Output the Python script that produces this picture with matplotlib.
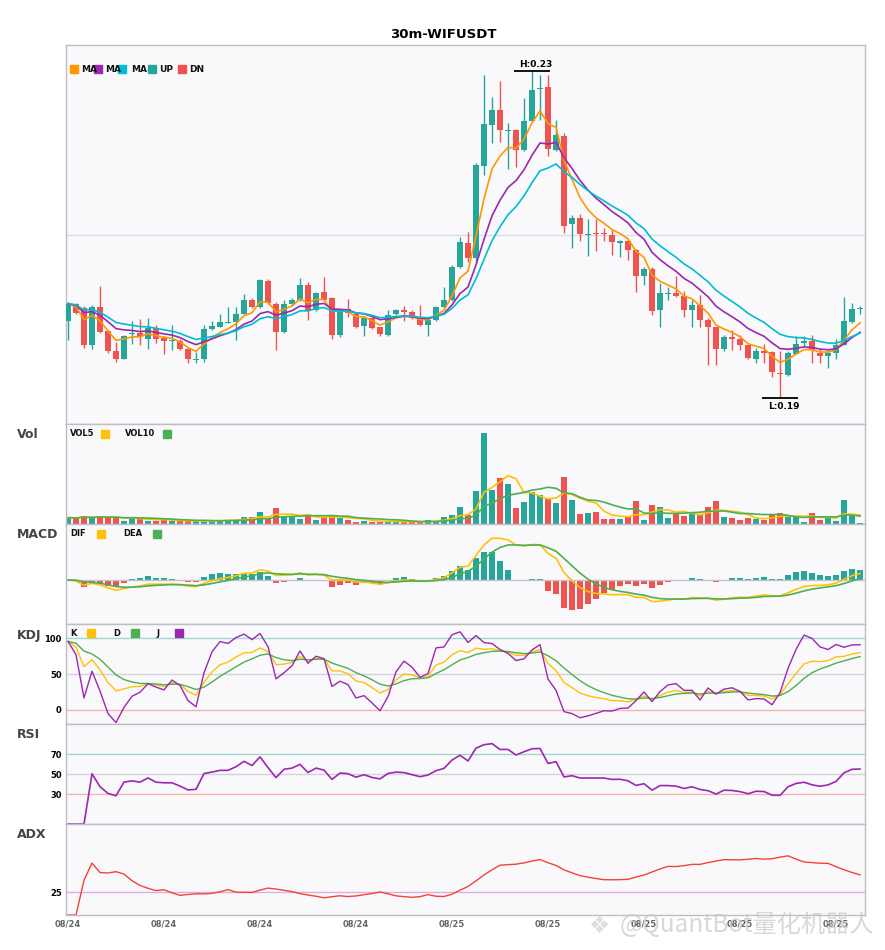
import numpy as np
import pandas as pd
import matplotlib
matplotlib.use("Agg")
import matplotlib.pyplot as plt
from matplotlib.patches import Rectangle

# WIF/USDT, 30m candles starting 08/24 00:00
opens = [0.1995, 0.2016, 0.2011, 0.1966, 0.2012, 0.1983, 0.1958, 0.1949, 0.1979, 0.1980,
         0.1973, 0.1986, 0.1974, 0.1970, 0.1970, 0.1961, 0.1947, 0.1949, 0.1985, 0.1988,
         0.1993, 0.1994, 0.2004, 0.2020, 0.2012, 0.2044, 0.2016, 0.1982, 0.2016, 0.2021,
         0.2039, 0.2008, 0.2030, 0.2023, 0.1978, 0.2009, 0.2004, 0.1989, 0.1998, 0.1987,
         0.1978, 0.2004, 0.2008, 0.2006, 0.1998, 0.1990, 0.1996, 0.2012, 0.2021, 0.2061,
         0.2090, 0.2072, 0.2184, 0.2234, 0.2253, 0.2227, 0.2228, 0.2204, 0.2239, 0.2278,
         0.2281, 0.2204, 0.2221, 0.2113, 0.2121, 0.2100, 0.2102, 0.2102, 0.2100, 0.2090,
         0.2093, 0.2081, 0.2050, 0.2058, 0.2008, 0.2028, 0.2029, 0.2025, 0.2008, 0.2015,
         0.1996, 0.1987, 0.1961, 0.1975, 0.1973, 0.1965, 0.1949, 0.1958, 0.1957, 0.1931,
         0.1929, 0.1955, 0.1968, 0.1971, 0.1956, 0.1952, 0.1956, 0.1965, 0.1994, 0.2009]
highs = [0.2018, 0.2017, 0.2013, 0.2014, 0.2037, 0.1984, 0.1969, 0.1978, 0.1995, 0.1997,
         0.1999, 0.1990, 0.1976, 0.1990, 0.1973, 0.1963, 0.1957, 0.1990, 0.1995, 0.2004,
         0.2012, 0.2012, 0.2028, 0.2023, 0.2046, 0.2046, 0.2018, 0.2021, 0.2023, 0.2047,
         0.2043, 0.2030, 0.2049, 0.2024, 0.2010, 0.2022, 0.2006, 0.2001, 0.2000, 0.1988,
         0.2008, 0.2010, 0.2013, 0.2008, 0.2014, 0.1997, 0.2013, 0.2036, 0.2063, 0.2098,
         0.2104, 0.2188, 0.2295, 0.2268, 0.2288, 0.2237, 0.2229, 0.2267, 0.2300, 0.2295,
         0.2295, 0.2240, 0.2224, 0.2124, 0.2126, 0.2120, 0.2120, 0.2108, 0.2106, 0.2094,
         0.2094, 0.2083, 0.2061, 0.2061, 0.2041, 0.2036, 0.2050, 0.2031, 0.2021, 0.2027,
         0.1998, 0.1988, 0.1978, 0.1984, 0.1978, 0.1967, 0.1962, 0.1967, 0.1958, 0.1958,
         0.1958, 0.1977, 0.1977, 0.1978, 0.1962, 0.1960, 0.1973, 0.2024, 0.2017, 0.2013]
lows = [0.1972, 0.2004, 0.1962, 0.1961, 0.1980, 0.1956, 0.1945, 0.1948, 0.1967, 0.1965,
        0.1961, 0.1968, 0.1954, 0.1960, 0.1960, 0.1944, 0.1944, 0.1945, 0.1984, 0.1987,
        0.1993, 0.1972, 0.2003, 0.2011, 0.2011, 0.2016, 0.1959, 0.1980, 0.2015, 0.2019,
        0.1996, 0.2007, 0.2019, 0.1973, 0.1975, 0.2000, 0.1986, 0.1977, 0.1985, 0.1977,
        0.1977, 0.2002, 0.1995, 0.1997, 0.1989, 0.1977, 0.1995, 0.2011, 0.2019, 0.2060,
        0.2067, 0.2067, 0.2173, 0.2212, 0.2214, 0.2180, 0.2183, 0.2202, 0.2238, 0.2240,
        0.2196, 0.2202, 0.2102, 0.2084, 0.2092, 0.2074, 0.2080, 0.2092, 0.2076, 0.2073,
        0.2069, 0.2030, 0.2039, 0.2002, 0.1988, 0.2020, 0.2024, 0.2000, 0.1988, 0.1988,
        0.1941, 0.1941, 0.1958, 0.1960, 0.1960, 0.1948, 0.1943, 0.1943, 0.1927, 0.1901,
        0.1928, 0.1954, 0.1964, 0.1943, 0.1943, 0.1938, 0.1948, 0.1965, 0.1993, 0.2004]
closes = [0.2016, 0.2005, 0.1965, 0.2012, 0.1982, 0.1958, 0.1948, 0.1977, 0.1980, 0.1976,
          0.1986, 0.1973, 0.1971, 0.1971, 0.1961, 0.1948, 0.1949, 0.1985, 0.1989, 0.1994,
          0.1994, 0.2004, 0.2021, 0.2012, 0.2045, 0.2017, 0.1982, 0.2016, 0.2021, 0.2039,
          0.2008, 0.2029, 0.2021, 0.1978, 0.2008, 0.2005, 0.1988, 0.1999, 0.1986, 0.1979,
          0.2002, 0.2008, 0.2006, 0.1998, 0.1990, 0.1996, 0.2012, 0.2021, 0.2061, 0.2091,
          0.2072, 0.2185, 0.2235, 0.2253, 0.2228, 0.2228, 0.2204, 0.2239, 0.2277, 0.2280,
          0.2205, 0.2222, 0.2111, 0.2121, 0.2101, 0.2101, 0.2101, 0.2101, 0.2091, 0.2092,
          0.2082, 0.2050, 0.2058, 0.2007, 0.2029, 0.2029, 0.2025, 0.2008, 0.2015, 0.1996,
          0.1987, 0.1961, 0.1975, 0.1973, 0.1965, 0.1950, 0.1958, 0.1956, 0.1932, 0.1930,
          0.1956, 0.1967, 0.1971, 0.1959, 0.1952, 0.1956, 0.1966, 0.1995, 0.2009, 0.2010]
volumes_k = [63, 57, 83, 60, 83, 60, 63, 33, 60, 53,
             33, 33, 43, 30, 27, 27, 27, 33, 33, 43,
             43, 43, 70, 70, 123, 50, 163, 80, 80, 53,
             93, 43, 67, 93, 60, 43, 23, 33, 23, 23,
             27, 27, 17, 17, 17, 43, 33, 73, 93, 173,
             87, 323, 903, 333, 453, 393, 163, 223, 313, 287,
             260, 213, 463, 243, 103, 113, 123, 53, 53, 53,
             73, 233, 43, 193, 173, 63, 113, 83, 103, 93,
             173, 233, 73, 63, 43, 63, 53, 43, 103, 113,
             73, 73, 23, 113, 43, 83, 33, 243, 83, 7]
tick_idx = [0, 12, 24, 36, 48, 60, 72, 84, 96]
tick_labels = ["08/24", "08/24", "08/24", "08/24", "08/25", "08/25", "08/25", "08/25", "08/25"]

UP, DN = "#26A69A", "#EF5350"
YEL, GRN, PUR = "#FFC107", "#4CAF50", "#9C27B0"

df = pd.DataFrame({"open": opens, "high": highs, "low": lows, "close": closes,
                   "vol": np.array(volumes_k) * 1000.0})
x = np.arange(len(df))
c = df["close"]

# moving averages (exponential)
ma_a = c.ewm(span=5, adjust=False).mean()
ma_b = c.ewm(span=10, adjust=False).mean()
ma_c = c.ewm(span=15, adjust=False).mean()
vol5 = df["vol"].rolling(5, min_periods=1).mean()
vol10 = df["vol"].rolling(10, min_periods=1).mean()

# MACD (fast setting)
dif = c.ewm(span=6, adjust=False).mean() - c.ewm(span=13, adjust=False).mean()
dea = dif.ewm(span=5, adjust=False).mean()
hist = 2 * (dif - dea)

# KDJ 9,3,3
low9 = df["low"].rolling(9, min_periods=1).min()
high9 = df["high"].rolling(9, min_periods=1).max()
rsv = (c - low9) / (high9 - low9) * 100
k = rsv.ewm(com=2, adjust=False).mean()
d = k.ewm(com=2, adjust=False).mean()
j = 3 * k - 2 * d

# RSI 14
delta = c.diff()
ag = delta.clip(lower=0).ewm(alpha=1 / 14, min_periods=3).mean()
al = (-delta.clip(upper=0)).ewm(alpha=1 / 14, min_periods=3).mean()
rsi = (100 - 100 / (1 + ag / al)).fillna(0)

# ADX 14
prev_c = c.shift()
tr = pd.concat([df["high"] - df["low"], (df["high"] - prev_c).abs(),
                (df["low"] - prev_c).abs()], axis=1).max(axis=1)
up_mv = df["high"].diff()
dn_mv = -df["low"].diff()
pdm = pd.Series(np.where((up_mv > dn_mv) & (up_mv > 0), up_mv, 0.0))
mdm = pd.Series(np.where((dn_mv > up_mv) & (dn_mv > 0), dn_mv, 0.0))
atr = tr.ewm(span=14).mean()
pdi = 100 * pdm.ewm(span=14).mean() / atr
mdi = 100 * mdm.ewm(span=14).mean() / atr
dx = (100 * (pdi - mdi).abs() / (pdi + mdi)).fillna(0)
dx.iloc[0] = 0
adx = dx.ewm(span=14).mean()

# layout in pixels
W, H = 885, 950
fig = plt.figure(figsize=(W / 100, H / 100), dpi=100)
fig.patch.set_facecolor("white")


def px_axes(left, top, right, bottom):
    return fig.add_axes([left / W, 1 - bottom / H, (right - left) / W, (bottom - top) / H])


ax_k = px_axes(66, 45, 865, 424)
ax_v = px_axes(66, 424, 865, 524)
ax_m = px_axes(66, 524, 865, 624)
ax_j = px_axes(66, 624, 865, 724)
ax_r = px_axes(66, 724, 865, 824)
ax_a = px_axes(66, 824, 865, 915)
axes = [ax_k, ax_v, ax_m, ax_j, ax_r, ax_a]

for ax in axes:
    ax.set_facecolor("#f9f9fb")
    ax.set_xlim(-0.25, 99.62)
    for s in ax.spines.values():
        s.set_color("#bdbdc6")
        s.set_linewidth(1)
    ax.tick_params(length=0, labelsize=6, pad=3)
    ax.set_xticks([])
    ax.set_yticks([])

# candles
is_up = df["close"] >= df["open"]
colors = np.where(is_up, UP, DN)
body_lo = np.minimum(df["open"], df["close"])
body_h = np.maximum((df["close"] - df["open"]).abs(), 0.00012)
ax_k.vlines(x, df["low"], df["high"], colors=colors, linewidth=1, zorder=2)
ax_k.bar(x, body_h, bottom=body_lo, width=0.75, color=colors, zorder=3)
ax_k.plot(x, ma_a, color="#FF9800", lw=1.2, zorder=4)
ax_k.plot(x, ma_b, color=PUR, lw=1.2, zorder=4)
ax_k.plot(x, ma_c, color="#00BCD4", lw=1.2, zorder=4)
rng = df["high"].max() - df["low"].min()
ax_k.set_ylim(df["low"].min() - 0.08 * rng, df["high"].max() + 0.08 * rng)
ax_k.axhline(0.21, color="#dcdce3", lw=1, zorder=1)

hi_i = int(df["high"].idxmax())
lo_i = int(df["low"].idxmin())
hi_v, lo_v = df["high"][hi_i], df["low"][lo_i]
ax_k.hlines(hi_v, hi_i - 2.2, hi_i + 2.2, color="black", lw=1.3, zorder=5)
ax_k.annotate(f"H:{hi_v:.2f}", (hi_i + 0.45, hi_v), xytext=(0, 2), textcoords="offset pixels",
              ha="center", va="bottom", fontsize=6.5, fontweight="bold")
ax_k.hlines(lo_v, lo_i - 2.2, lo_i + 2.2, color="black", lw=1.3, zorder=5)
ax_k.annotate(f"L:{lo_v:.2f}", (lo_i + 0.45, lo_v), xytext=(0, -4), textcoords="offset pixels",
              ha="center", va="top", fontsize=6.5, fontweight="bold")

# volume
ax_v.bar(x, df["vol"], width=0.75, color=colors)
ax_v.plot(x, vol5, color=YEL, lw=1.2)
ax_v.plot(x, vol10, color=GRN, lw=1.2)
ax_v.set_ylim(0, df["vol"].max() * 1.1)

# macd
ax_m.axhline(0, color="#c4c4cc", lw=1)
ax_m.bar(x, hist, width=0.75, color=np.where(hist >= 0, UP, DN))
ax_m.plot(x, dif, color=YEL, lw=1.2)
ax_m.plot(x, dea, color=GRN, lw=1.2)
mlo = min(dif.min(), dea.min(), hist.min())
mhi = max(dif.max(), dea.max(), hist.max())
ax_m.set_ylim(mlo - 0.2 * (mhi - mlo), mhi + 0.2 * (mhi - mlo))

# kdj
ax_j.axhline(100, color="#9fd6d0", lw=1)
ax_j.axhline(50, color="#d2d2d8", lw=1)
ax_j.axhline(0, color="#f3b3b3", lw=1)
ax_j.plot(x, k, color=YEL, lw=1)
ax_j.plot(x, d, color=GRN, lw=1)
ax_j.plot(x, j, color=PUR, lw=1)
ax_j.set_ylim(-20, 120)
ax_j.set_yticks([0, 50, 100])
ax_j.set_yticklabels(["0", "50", "100"], fontweight="bold")

# rsi
ax_r.axhline(70, color="#9fd6d0", lw=1)
ax_r.axhline(50, color="#d2d2d8", lw=1)
ax_r.axhline(30, color="#f3b3b3", lw=1)
ax_r.plot(x, rsi, color=PUR, lw=1.2)
ax_r.set_ylim(0, 100)
ax_r.set_yticks([30, 50, 70])
ax_r.set_yticklabels(["30", "50", "70"], fontweight="bold")

# adx
ax_a.axhline(25, color="#dcaee4", lw=1)
ax_a.plot(x, adx, color="#F44336", lw=1)
ax_a.set_ylim(0, 100)
ax_a.set_yticks([25])
ax_a.set_yticklabels(["25"], fontweight="bold")
ax_a.set_xticks(tick_idx)
ax_a.set_xticklabels(tick_labels, fontweight="bold", color="#666666")


# legends and labels (pixel positions)
def square(px, py, color):
    fig.add_artist(Rectangle((px / W, 1 - (py + 8) / H), 8 / W, 8 / H,
                             transform=fig.transFigure, color=color))


def label(px, py, s, size=6.5, color="#111111"):
    fig.text(px / W, 1 - py / H, s, fontsize=size, fontweight="bold",
             ha="left", va="center", color=color)


fig.text(443 / W, 1 - 34 / H, "30m-WIFUSDT", fontsize=9.5, fontweight="bold",
         ha="center", va="center")

label(81, 69, "MA")
label(105, 69, "MA")
label(131, 69, "MA")
label(159, 69, "UP")
label(189, 69, "DN")
for px, col in [(70, "#FF9800"), (94, PUR), (118, "#00BCD4"), (148, UP), (178, DN)]:
    square(px, 65, col)

label(70, 434, "VOL5", 6)
square(101, 430, YEL)
label(125, 434, "VOL10", 6)
square(163, 430, GRN)

label(70, 534, "DIF", 6)
square(97, 530, YEL)
label(123, 534, "DEA", 6)
square(153, 530, GRN)

label(70, 634, "K", 6)
square(87, 629, YEL)
label(113, 634, "D", 6)
square(131, 629, GRN)
label(156, 634, "J", 6)
square(175, 629, PUR)

for py, name in [(435, "Vol"), (535, "MACD"), (636, "KDJ"), (735, "RSI"), (835, "ADX")]:
    label(17, py, name, 9, "#444444")

fig.text(599 / W, 1 - 926 / H, "❖", fontsize=17, color="#d0d0d0", alpha=0.7,
         ha="center", va="center")
fig.text(620 / W, 1 - 925 / H, "@QuantBot量化机器人", fontsize=17.5,
         family=["Noto Sans CJK SC", "DejaVu Sans"], color="#c8c8c8", alpha=0.7,
         ha="left", va="center")

fig.savefig("out.png", dpi=100)
